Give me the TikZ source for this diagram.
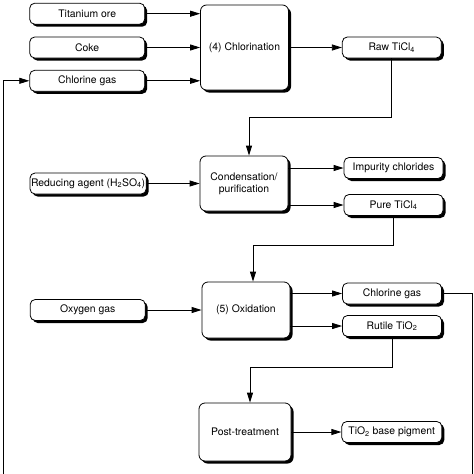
\documentclass[tikz,border=0pt]{standalone}
\usepackage{fontspec}
\setmainfont{TeX Gyre Heros}
\usetikzlibrary{arrows.meta, positioning, shadows}
\tikzset{
    feedbox/.style={
        rectangle,
        rounded corners=5pt,
        draw=black,
        line width=0.8pt,
        fill=white,
        drop shadow={shadow xshift=2.5pt, shadow yshift=-2.5pt, fill=black, opacity=1},
        minimum width=115pt,
        minimum height=21pt,
        inner sep=1pt,
        font=\fontsize{10.4}{12.5}\selectfont
    },
    prodbox/.style={
        feedbox,
        minimum width=99pt
    },
    procbox/.style={
        feedbox,
        rounded corners=6pt,
        minimum width=88pt,
        align=center
    },
    flow/.style={
        draw=black,
        line width=0.8pt,
        -{Triangle[length=10pt,width=6pt]}
    }
}

\begin{document}
\begin{tikzpicture}[x=1pt, y=1pt, node distance=12pt]
\useasboundingbox (0,0) rectangle (474,-474);
\clip (0,0) rectangle (474,-474);

% Chlorination
\node[procbox, minimum height=85pt] (chlor) at (244.5,-47.5) {(4) Chlorination};
\node[feedbox, left=55pt of chlor] (coke) {Coke};
\node[feedbox, above=of coke] (ore) {Titanium ore};
\node[feedbox, below=11.5pt of coke] (clin) {Chlorine gas};
\node[prodbox, right=53pt of chlor] (raw) {Raw TiCl\textsubscript{4}};

% Condensation
\node[procbox, minimum height=55pt] (cond) at (244,-183.5) {Condensation/\\purification};
\node[feedbox, left=53pt of cond] (red) {Reducing agent (H\textsubscript{2}SO\textsubscript{4})};
\node[prodbox] (imp) at (393.5,-168) {Impurity chlorides};
\node[prodbox] (pure) at (393.5,-205) {Pure TiCl\textsubscript{4}};

% Oxidation
\node[procbox, minimum height=56pt] (ox) at (246,-310) {(5) Oxidation};
\node[feedbox, left=56pt of ox] (oxy) {Oxygen gas};
\node[prodbox] (clout) at (392,-293.5) {Chlorine gas};
\node[prodbox] (rut) at (392,-326) {Rutile TiO\textsubscript{2}};

% Post-treatment
\node[procbox, minimum width=92pt, minimum height=58pt] (post) at (245,-432) {Post-treatment};
\node[prodbox, minimum width=100pt, right=50pt of post] (pig) {TiO\textsubscript{2} base pigment};

% Recycle corners
\coordinate (loopbr) at (472,-480);
\coordinate (loopbl) at (3,-480);

% Connections
\draw[flow] (ore.east) -- (ore.east -| chlor.west);
\draw[flow] (coke.east) -- (coke.east -| chlor.west);
\draw[flow] (clin.east) -- (clin.east -| chlor.west);
\draw[flow] (chlor) -- (raw);
\draw[flow] (raw.south) -- ++(0,-59) -| ([xshift=5pt]cond.north);
\draw[flow] (red.east) -- (red.east -| cond.west);
\draw[flow] (imp.west -| cond.east) -- (imp.west);
\draw[flow] (pure.west -| cond.east) -- (pure.west);
\draw[flow] (pure.south) -- ++(0,-29.5) -| ([xshift=7pt]ox.north);
\draw[flow] (oxy.east) -- (oxy.east -| ox.west);
\draw[flow] (clout.west -| ox.east) -- (clout.west);
\draw[flow] (rut.west -| ox.east) -- (rut.west);
\draw[flow] (rut.south) -- ++(0,-30) -| ([xshift=5pt]post.north);
\draw[flow] (post) -- (pig);
\draw[flow] (clout.east) -| (loopbr) -| (loopbl) |- (clin.west);

\end{tikzpicture}
\end{document}
